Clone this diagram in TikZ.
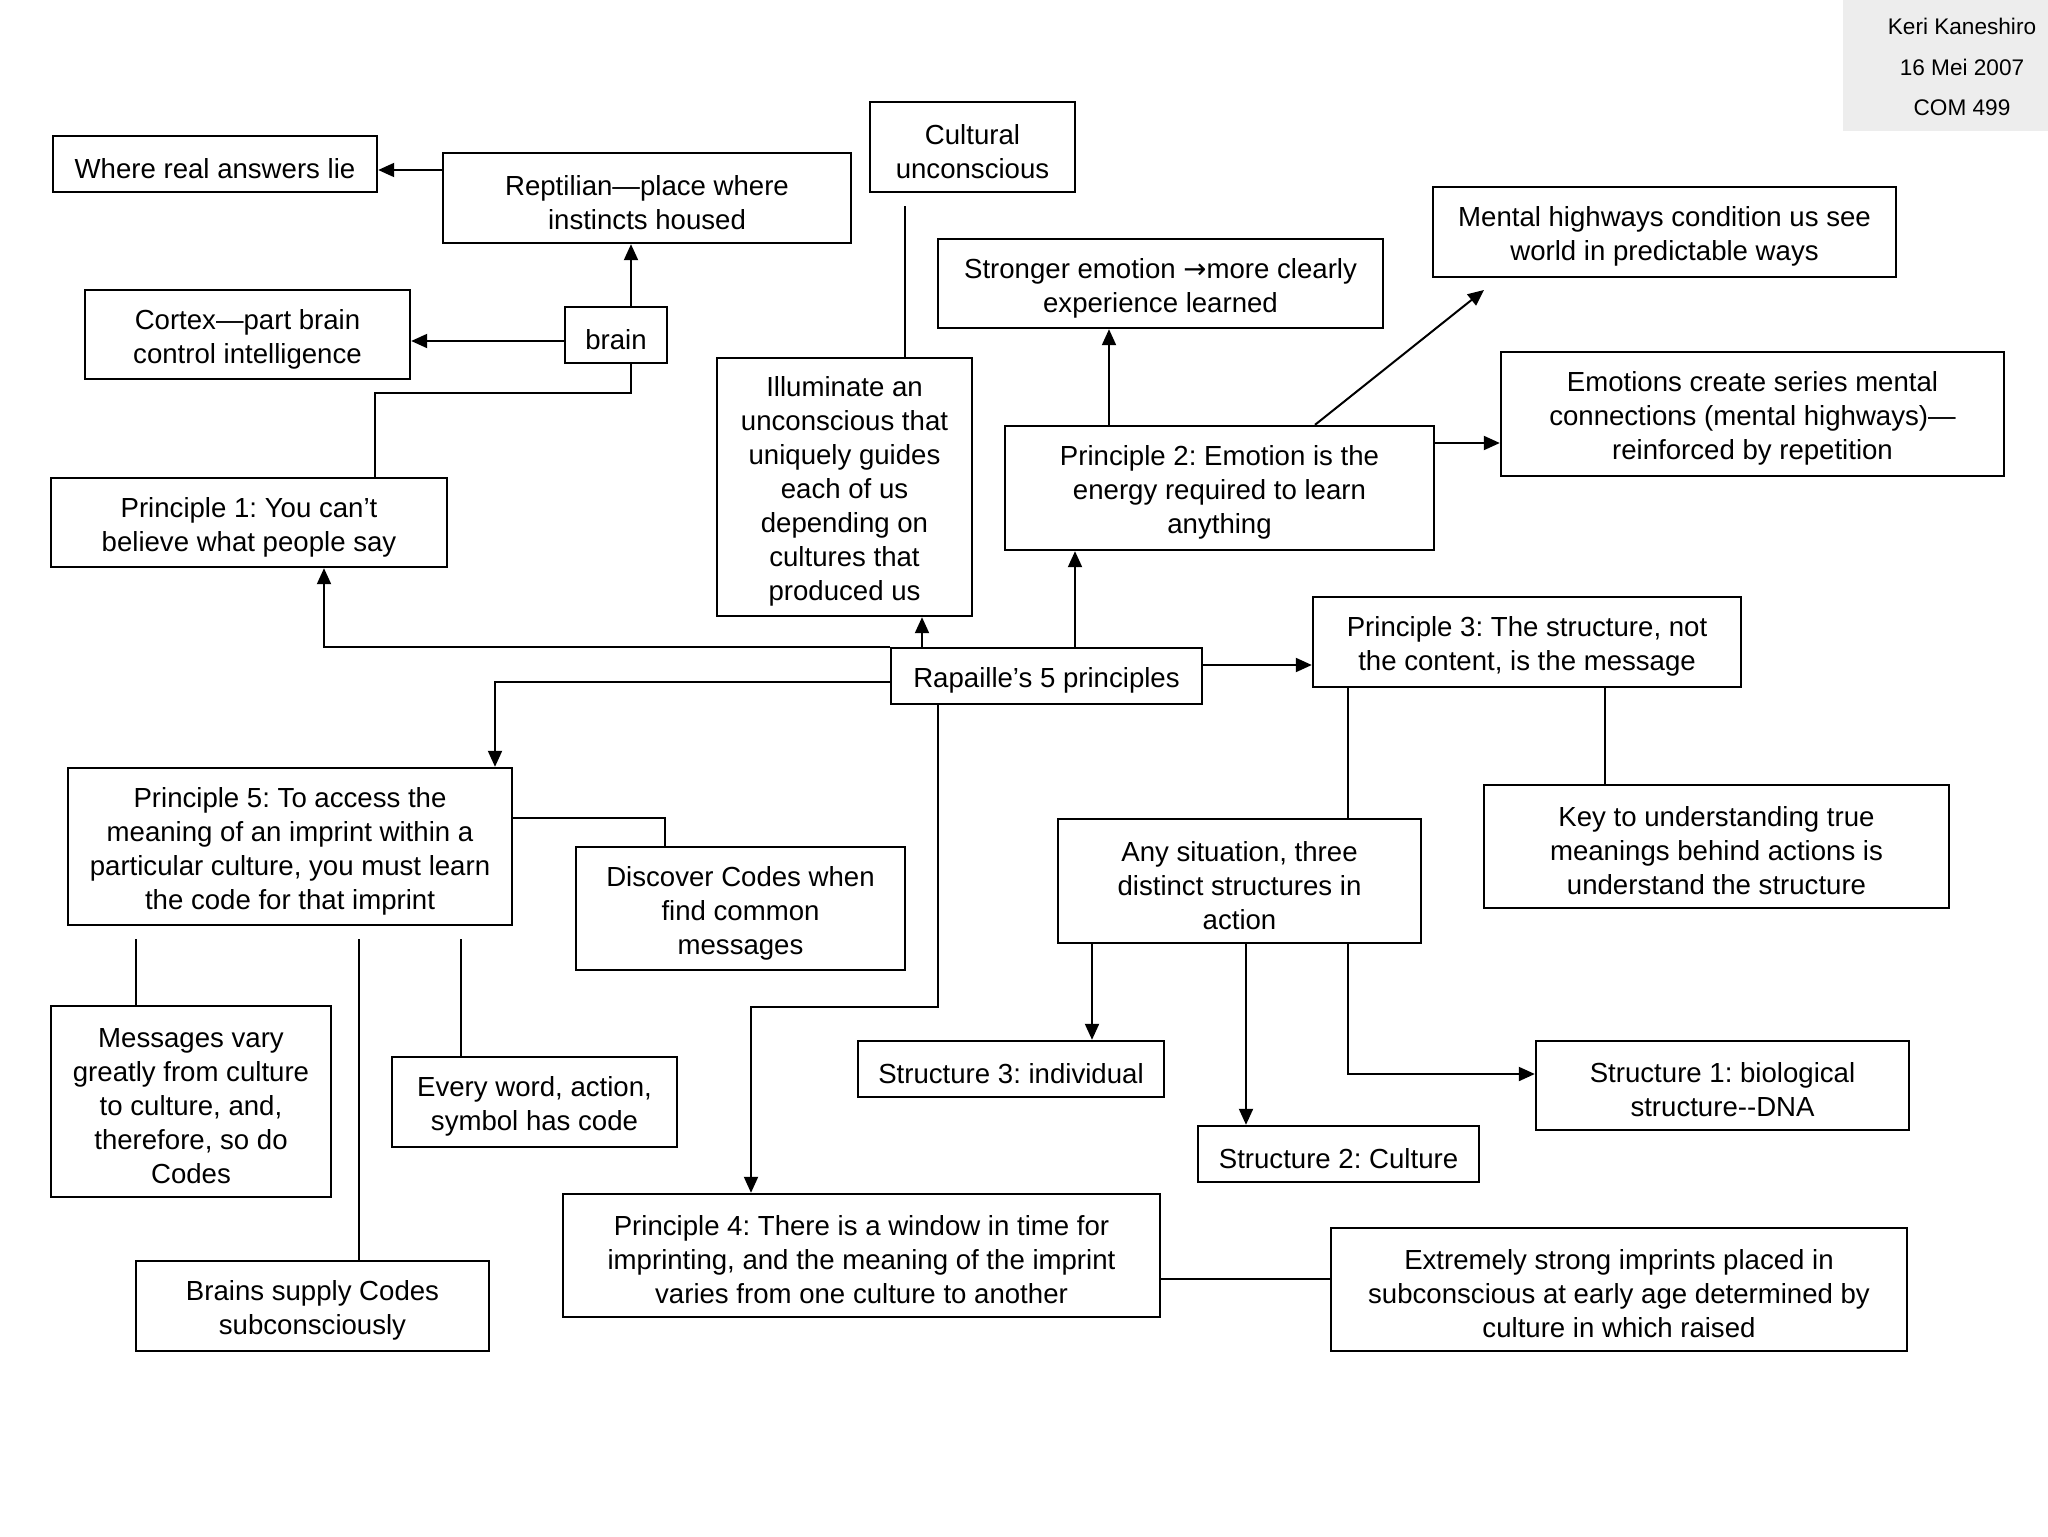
\documentclass[tikz,border=0pt]{standalone}
\usepackage{fontspec}
\setmainfont{Liberation Sans}
\newfontfamily\djv{DejaVu Sans}
\usetikzlibrary{arrows.meta}
\frenchspacing
\newcommand\mkbox[6]{%
  \pgfmathsetmacro\bxcx{(#2+#4)/2}%
  \pgfmathsetmacro\bxcy{(#3+#5)/2}%
  \pgfmathsetmacro\bxw{(#4-#2)*0.5}%
  \pgfmathsetmacro\bxh{(#5-#3)*0.5}%
  \node[box, minimum width=\bxw pt, minimum height=\bxh pt] (#1) at (\bxcx,\bxcy) {};%
  \node[txt] (#1-t) at ([yshift=-2.2pt]#1.center) {#6};%
}
\begin{document}
\begin{tikzpicture}[x=0.5pt,y=-0.5pt,
  box/.style={draw=black, line width=1.2pt, inner sep=0pt},
  txt/.style={inner sep=0pt, align=center, font=\fontsize{13.8}{17}\selectfont},
  conn/.style={line width=1pt, draw=black},
  arr/.style={conn, -{Triangle[length=8pt,width=7pt]}},
  hdr/.style={font=\fontsize{11.3}{13}\selectfont, inner sep=0pt}
]
\useasboundingbox (0,0) rectangle (2048,1536);
\fill[white] (0,0) rectangle (2048,1536);
% header
\fill[black!7] (1843,0) rectangle (2048,131);
\node[hdr] (h1) at (1962,26) {Keri Kaneshiro};
\node[hdr] (h2) at (1962,67) {16 Mei 2007};
\node[hdr] (h3) at (1962,108) {COM 499};

% nodes
\mkbox{where}{53}{136}{377}{192}{Where real answers lie}
\mkbox{rep}{443}{153}{851}{243}{Reptilian—place where\\instincts housed}
\mkbox{brain}{565}{307}{667}{363}{brain}
\mkbox{cortex}{85}{290}{410}{379}{Cortex—part brain\\control intelligence}
\mkbox{p1}{51}{478}{447}{567}{Principle 1: You can’t\\believe what people say}
\mkbox{cult}{870}{102}{1075}{192}{Cultural\\unconscious}
\mkbox{ill}{717}{358}{972}{616}{Illuminate an\\unconscious that\\uniquely guides\\each of us\\depending on\\cultures that\\produced us}
\mkbox{strong}{938}{239}{1383}{328}{Stronger emotion {\djv →}more clearly\\experience learned}
\mkbox{p2}{1005}{426}{1434}{550}{Principle 2: Emotion is the\\energy required to learn\\anything}
\mkbox{mental}{1433}{187}{1896}{277}{Mental highways condition us see\\world in predictable ways}
\mkbox{emo}{1501}{352}{2004}{476}{Emotions create series mental\\connections (mental highways)—\\reinforced by repetition}
\mkbox{rap}{891}{648}{1202}{704}{Rapaille’s 5 principles}
\mkbox{p3}{1313}{597}{1741}{687}{Principle 3: The structure, not\\the content, is the message}
\mkbox{key}{1484}{785}{1949}{908}{Key to understanding true\\meanings behind actions is\\understand the structure}
\mkbox{any}{1058}{819}{1421}{943}{Any situation, three\\distinct structures in\\action}
\mkbox{s3}{858}{1041}{1164}{1097}{Structure 3: individual}
\mkbox{s2}{1198}{1126}{1479}{1182}{Structure 2: Culture}
\mkbox{s1}{1536}{1041}{1909}{1130}{Structure 1: biological\\structure-{}-DNA}
\mkbox{p5}{68}{768}{512}{925}{Principle 5: To access the\\meaning of an imprint within a\\particular culture, you must learn\\the code for that imprint}
\mkbox{disc}{576}{847}{905}{970}{Discover Codes when\\find common\\messages}
\mkbox{msg}{51}{1006}{331}{1197}{Messages vary\\greatly from culture\\to culture, and,\\therefore, so do\\Codes}
\mkbox{every}{392}{1057}{677}{1147}{Every word, action,\\symbol has code}
\mkbox{brains}{136}{1261}{489}{1351}{Brains supply Codes\\subconsciously}
\mkbox{p4}{563}{1194}{1160}{1317}{Principle 4: There is a window in time for\\imprinting, and the meaning of the imprint\\varies from one culture to another}
\mkbox{ext}{1331}{1228}{1907}{1351}{Extremely strong imprints placed in\\subconscious at early age determined by\\culture in which raised}

% helper coordinates
\coordinate (h170) at (0,170);
\coordinate (h341) at (0,341);
\coordinate (h393) at (0,393);
\coordinate (h443) at (0,443);
\coordinate (h665) at (0,665);
\coordinate (h682) at (0,682);
\coordinate (h1007) at (0,1007);
\coordinate (h1074) at (0,1074);
\coordinate (h818) at (0,818);
\coordinate (h1279) at (0,1279);
\coordinate (k136) at (136,0);
\coordinate (k324) at (324,0);
\coordinate (k359) at (359,0);
\coordinate (k375) at (375,0);
\coordinate (k461) at (461,0);
\coordinate (k495) at (495,0);
\coordinate (k631) at (631,0);
\coordinate (k665) at (665,0);
\coordinate (k751) at (751,0);
\coordinate (k905) at (905,0);
\coordinate (k922) at (922,0);
\coordinate (k938) at (938,0);
\coordinate (k1075) at (1075,0);
\coordinate (k1092) at (1092,0);
\coordinate (k1109) at (1109,0);
\coordinate (k1246) at (1246,0);
\coordinate (k1315) at (1315,0);
\coordinate (k1348) at (1348,0);
\coordinate (k1605) at (1605,0);
\coordinate (mtip) at (1484,290);

% connectors
\draw[arr] (rep.west |- h170) -- (where.east |- h170);
\draw[arr] (k631 |- brain.north) -- (k631 |- rep.south);
\draw[arr] (brain.west |- h341) -- (cortex.east |- h341);
\draw[conn] (k631 |- brain.south) -- (k631 |- h393) -- (k375 |- h393) -- (k375 |- p1.north);
\draw[conn, shorten <=6.5pt] (k905 |- cult.south) -- (k905 |- ill.north);
\draw[arr] (k1109 |- p2.north) -- (k1109 |- strong.south);
\draw[arr] (k1315 |- p2.north) -- (mtip);
\draw[arr] (p2.east |- h443) -- (emo.west |- h443);
\draw[arr] (k922 |- rap.north) -- (k922 |- ill.south);
\draw[arr] (k1075 |- rap.north) -- (k1075 |- p2.south);
\draw[arr] (rap.north west) -- (k324 |- rap.north) -- (k324 |- p1.south);
\draw[arr] (rap.west |- h682) -- (k495 |- h682) -- (k495 |- p5.north);
\draw[arr] (k938 |- rap.south) -- (k938 |- h1007) -- (k751 |- h1007) -- (k751 |- p4.north);
\draw[arr] (rap.east |- h665) -- (p3.west |- h665);
\draw[conn] (k1348 |- p3.south) -- (k1348 |- any.north);
\draw[conn] (k1605 |- p3.south) -- (k1605 |- key.north);
\draw[arr] (k1092 |- any.south) -- (k1092 |- s3.north);
\draw[arr] (k1246 |- any.south) -- (k1246 |- s2.north);
\draw[arr] (k1348 |- any.south) -- (k1348 |- h1074) -- (s1.west |- h1074);
\draw[conn] (p5.east |- h818) -- (k665 |- h818) -- (k665 |- disc.north);
\draw[conn, shorten <=6.5pt] (k136 |- p5.south) -- (k136 |- msg.north);
\draw[conn, shorten <=6.5pt] (k359 |- p5.south) -- (k359 |- brains.north);
\draw[conn, shorten <=6.5pt] (k461 |- p5.south) -- (k461 |- every.north);
\draw[conn] (p4.east |- h1279) -- (ext.west |- h1279);
\end{tikzpicture}
\end{document}
